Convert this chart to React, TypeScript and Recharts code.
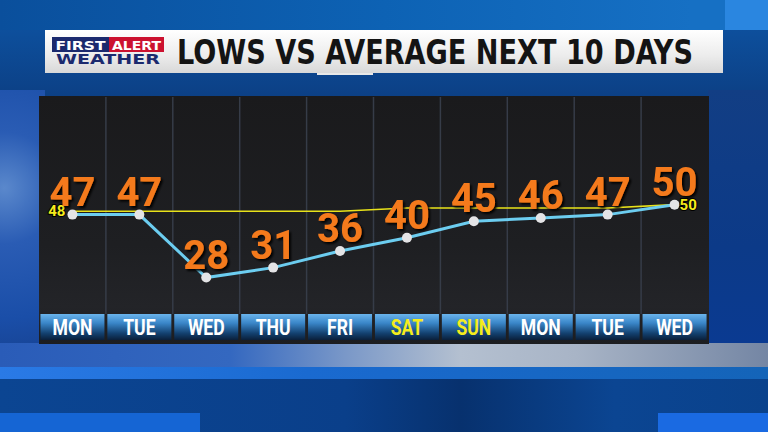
import { LineChart, Line, XAxis, YAxis, ReferenceLine, LabelList } from 'recharts';

const days = ['MON', 'TUE', 'WED', 'THU', 'FRI', 'SAT', 'SUN', 'MON', 'TUE', 'WED'];
const lows = [47, 47, 28, 31, 36, 40, 45, 46, 47, 50];
const averages = [48, 48, 48, 48, 48, 49, 49, 49, 49, 50];
const weekendDays = [5, 6];

const data = days.map((day, i) => ({ i, day, low: lows[i], avg: averages[i] }));
const dayTicks = days.map((_, i) => i);
const separators = days.slice(1).map((_, i) => i + 0.5);

const NARROW = "'Liberation Sans Narrow', 'DejaVu Sans Condensed', 'Roboto', sans-serif";
const W = 768;
const H = 432;

function DayTick(props: any) {
  const { x, y, payload } = props;
  const idx = payload.value as number;
  const weekend = weekendDays.includes(idx);
  return (
    <g>
      <rect x={x - 32} y={y} width={64} height={26} fill="url(#dayGrad)" />
      <text
        transform={`translate(${x} ${y + 21}) scale(0.8 1)`}
        textAnchor="middle"
        fill={weekend ? '#f5ec1c' : '#ffffff'}
        fontFamily="Roboto, sans-serif"
        fontWeight={700}
        fontSize={22}
      >
        {days[idx]}
      </text>
    </g>
  );
}

function LowLabel(props: any) {
  const { x, y, value } = props;
  return (
    <text
      x={x}
      y={y - 9}
      textAnchor="middle"
      fill="#f47a1c"
      filter="url(#numShadow)"
      fontFamily="Roboto, sans-serif"
      fontWeight={700}
      fontSize={40}
    >
      {value}
    </text>
  );
}

function AvgLabel(props: any) {
  const { x, y, value, index } = props;
  if (index !== 0 && index !== averages.length - 1) return null;
  const first = index === 0;
  return (
    <text
      x={first ? x - 7 : x + 5}
      y={y + 5}
      textAnchor={first ? 'end' : 'start'}
      fill="#f5ec1c"
      stroke="#000"
      strokeWidth={2}
      paintOrder="stroke"
      fontFamily="Roboto, sans-serif"
      fontWeight={700}
      fontSize={15}
    >
      {value}
    </text>
  );
}

export default function App() {
  return (
    <div style={{ position: 'fixed', left: 0, top: 0, width: W, height: H, overflow: 'hidden', background: '#0b3f86' }}>
      {/* backdrop */}
      <div style={{ position: 'absolute', left: 0, top: 0, width: W, height: 30, background: 'linear-gradient(90deg, #0a4f9c 0%, #0d62b4 50%, #1670c4 90%)' }} />
      <div style={{ position: 'absolute', left: 725, top: 0, width: 43, height: 30, background: '#2a86e0' }} />
      <div style={{ position: 'absolute', left: 0, top: 30, width: W, height: 70, background: 'linear-gradient(180deg, #0d4f9c, #0c3f84)' }} />
      <div
        style={{
          position: 'absolute',
          left: 0,
          top: 90,
          width: 45,
          height: 280,
          background: 'radial-gradient(circle at 10% 35%, #5a88cc 0%, #2a5cb4 30%, #1a4ea8 70%, #163f8c 100%)',
        }}
      />
      <div style={{ position: 'absolute', left: 708, top: 90, width: 60, height: 260, background: 'linear-gradient(180deg, #123e84 0%, #0c3a88 60%, #0a3a92 100%)' }} />
      <div
        style={{
          position: 'absolute',
          left: 0,
          top: 343,
          width: W,
          height: 24,
          background: 'linear-gradient(90deg, #2a5cb8 0%, #3468c0 30%, #7a98c8 45%, #b4c0d0 60%, #a8b4c6 75%, #7486a4 100%)',
        }}
      />
      <div style={{ position: 'absolute', left: 0, top: 367, width: W, height: 12, background: 'linear-gradient(90deg, #2a7ae6 0%, #1a6ad0 40%, #1464b8 100%)' }} />
      <div style={{ position: 'absolute', left: 0, top: 379, width: W, height: 53, background: 'linear-gradient(90deg, #0b4592 0%, #0a3f8a 45%, #07316e 60%, #0b4592 80%, #0a428c 100%)' }} />
      <div style={{ position: 'absolute', left: 0, top: 413, width: 200, height: 19, background: '#1565d4' }} />
      <div style={{ position: 'absolute', left: 658, top: 413, width: 110, height: 19, background: '#1a6ae2' }} />

      {/* title bar */}
      <div
        style={{
          position: 'absolute',
          left: 45,
          top: 30,
          width: 678,
          height: 43,
          background: 'linear-gradient(180deg, #ffffff 0%, #ececec 60%, #d8d8d8 100%)',
        }}
      />
      <svg style={{ position: 'absolute', left: 0, top: 0 }} width={W} height={100}>
        <rect x={52} y={37} width={57} height={15} fill="#1b2a6e" />
        <rect x={109} y={37} width={55} height={15} fill="#cc1230" />
        <text x={80.5} y={50} textAnchor="middle" fill="#fff" fontFamily="'DejaVu Sans', sans-serif" fontWeight={700} fontSize={13} textLength={50} lengthAdjust="spacingAndGlyphs">
          FIRST
        </text>
        <text x={136.5} y={50} textAnchor="middle" fill="#fff" fontFamily="'DejaVu Sans', sans-serif" fontWeight={700} fontSize={13} textLength={49} lengthAdjust="spacingAndGlyphs">
          ALERT
        </text>
        <text x={108} y={64} textAnchor="middle" fill="#1b2a6e" fontFamily="'DejaVu Sans', sans-serif" fontWeight={700} fontSize={14} textLength={104} lengthAdjust="spacingAndGlyphs">
          WEATHER
        </text>
        <text x={177} y={64} fill="#141414" fontFamily={NARROW} fontWeight={700} fontSize={34} textLength={516} lengthAdjust="spacingAndGlyphs">
          LOWS VS AVERAGE NEXT 10 DAYS
        </text>
        <rect x={317} y={73} width={56} height={2} fill="#e8e8e8" />
      </svg>

      {/* chart panel */}
      <div
        style={{
          position: 'absolute',
          left: 39,
          top: 96,
          width: 670,
          height: 248,
          background: 'linear-gradient(180deg, #1a1a1c 0%, #1e1f22 60%, #232428 85%, #1c1d20 100%)',
        }}
      />

      <div style={{ position: 'absolute', left: 0, top: 0 }}>
        <LineChart width={W} height={H} data={data} margin={{ top: 97, right: 60, bottom: 92, left: 39 }}>
          <defs>
            <linearGradient id="dayGrad" x1="0" y1="0" x2="0" y2="1">
              <stop offset="0%" stopColor="#6ab4ec" />
              <stop offset="35%" stopColor="#3a86c8" />
              <stop offset="75%" stopColor="#13406e" />
              <stop offset="100%" stopColor="#0a1f3a" />
            </linearGradient>
            <filter id="numShadow" x="-20%" y="-20%" width="150%" height="150%">
              <feDropShadow dx={2} dy={2} stdDeviation={0.8} floodColor="#000" floodOpacity={0.95} />
            </filter>
          </defs>
          <XAxis
            dataKey="i"
            type="number"
            domain={[-0.5, 9.5]}
            ticks={dayTicks}
            interval={0}
            axisLine={false}
            tickLine={false}
            tickSize={0}
            tickMargin={0}
            height={26}
            tick={<DayTick />}
          />
          <YAxis hide domain={[17, 82.5]} />
          {separators.map((s) => (
            <ReferenceLine key={s} x={s} stroke="#363c48" strokeWidth={1.5} />
          ))}
          <Line
            type="linear"
            dataKey="avg"
            stroke="#e8e21a"
            strokeWidth={1.6}
            dot={false}
            isAnimationActive={false}
          >
            <LabelList dataKey="avg" content={<AvgLabel />} />
          </Line>
          <Line
            type="linear"
            dataKey="low"
            stroke="#6ccdf0"
            strokeWidth={3}
            dot={{ r: 5, fill: '#e4e4e6', stroke: 'none' }}
            isAnimationActive={false}
          >
            <LabelList dataKey="low" content={<LowLabel />} />
          </Line>
        </LineChart>
      </div>
    </div>
  );
}
